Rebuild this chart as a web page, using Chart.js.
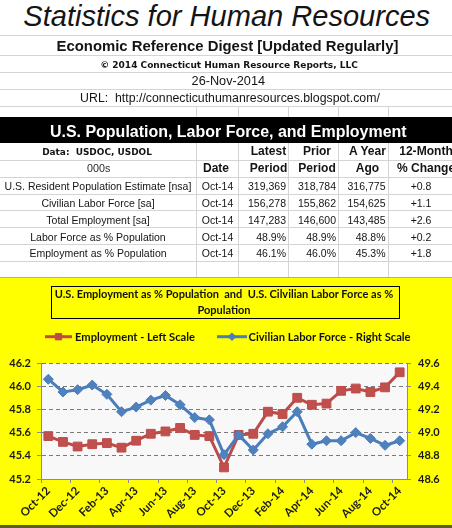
<!DOCTYPE html>
<html><head><meta charset="utf-8">
<script src="https://cdn.jsdelivr.net/npm/chart.js@4.4.1/dist/chart.umd.min.js"></script>
<style>
html,body{margin:0;padding:0;overflow:hidden;}
body{width:452px;height:528px;position:relative;background:#fff;}
.h{position:absolute;left:0;width:452px;height:1px;background:#d4d4d4;}
.v{position:absolute;width:1px;background:#d4d4d4;}
#chartBox{position:absolute;left:0;top:277px;width:452px;height:251px;background:#ffff00;}
#chartBox canvas{position:absolute;left:0;top:0;}
</style></head><body>
<div id="chartBox"><canvas id="c"></canvas></div>
<script>
// ---------- data ----------
const sheetTitle = "Statistics for Human Resources";
const sheetSubtitle = "Economic Reference Digest [Updated Regularly]";
const sheetCopyright = "\u00A9 2014 Connecticut Human Resource Reports, LLC";
const sheetDate = "26-Nov-2014";
const sheetUrl = "URL:  http://connecticuthumanresources.blogspot.com/";
const tableTitle = "U.S. Population, Labor Force, and Employment";
const headerRow1 = ["Data:  USDOC, USDOL", "", "Latest", "Prior", "A Year", "12-Month"];
const headerRow2 = ["000s", "Date", "Period", "Period", "Ago", "% Change"];
const rowLabels = ["U.S. Resident Population Estimate [nsa]", "Civilian Labor Force [sa]", "Total Employment [sa]", "Labor Force as % Population", "Employment as % Population"];
const rowDates = ["Oct-14", "Oct-14", "Oct-14", "Oct-14", "Oct-14"];
const latestPeriod = ["319,369", "156,278", "147,283", "48.9%", "46.1%"];
const priorPeriod = ["318,784", "155,862", "146,600", "48.9%", "46.0%"];
const yearAgo = ["316,775", "154,625", "143,485", "48.8%", "45.3%"];
const change12m = ["+0.8", "+1.1", "+2.6", "+0.2", "+1.8"];

const chartTitleLines = ["U.S. Employment as % Population  and  U.S. Cilvilian Labor Force as %", "Population"];
const months = ["Oct-12","Nov-12","Dec-12","Jan-13","Feb-13","Mar-13","Apr-13","May-13","Jun-13","Jul-13","Aug-13","Sep-13","Oct-13","Nov-13","Dec-13","Jan-14","Feb-14","Mar-14","Apr-14","May-14","Jun-14","Jul-14","Aug-14","Sep-14","Oct-14"];
const employmentPct = [45.57,45.52,45.48,45.50,45.51,45.47,45.53,45.59,45.61,45.64,45.58,45.57,45.30,45.58,45.59,45.78,45.76,45.90,45.84,45.85,45.96,45.98,45.95,45.99,46.12];
const laborForcePct = [49.46,49.35,49.37,49.41,49.33,49.18,49.22,49.28,49.32,49.24,49.13,49.11,48.81,48.98,48.85,48.99,49.05,49.18,48.90,48.93,48.93,49.00,48.95,48.89,48.93];
const leftAxisTicks = [45.2,45.4,45.6,45.8,46.0,46.2];
const rightAxisTicks = [48.6,48.8,49.0,49.2,49.4,49.6];
const seriesNames = ["Employment - Left Scale", "Civilian Labor Force - Right Scale"];

// ---------- helpers ----------
const mc = document.createElement('canvas').getContext('2d');
function fitSize(text, style, weight, family, width){
  mc.font = style + ' ' + weight + ' 100px ' + family;
  return 100 * width / mc.measureText(text).width;
}
function place(parent, text, o){
  const d = document.createElement('div');
  d.textContent = text;
  const size = o.size, fam = o.family || '"Liberation Sans", Arial, sans-serif';
  d.style.cssText = 'position:absolute;white-space:pre;font:' + (o.style||'normal') + ' ' + (o.weight||'normal') + ' ' + size + 'px ' + fam + ';line-height:' + size + 'px;color:' + (o.color||'#141414') + ';';
  d.style.top = (o.base - (o.bf||0.8465) * size) + 'px';
  if (o.align === 'center'){ d.style.left = (o.x - 400) + 'px'; d.style.width = '800px'; d.style.textAlign = 'center'; }
  else if (o.align === 'right'){ d.style.left = (o.x - 800) + 'px'; d.style.width = '800px'; d.style.textAlign = 'right'; }
  else { d.style.left = o.x + 'px'; }
  parent.appendChild(d);
  return d;
}
function box(cls, css){ const d = document.createElement('div'); d.className = cls; d.style.cssText += css; document.body.appendChild(d); return d; }

// ---------- spreadsheet part ----------
const LS = '"Liberation Sans", Arial, sans-serif';
const DJ = '"DejaVu Sans", Verdana, sans-serif';
[35,55,72,89,106,160,177,194,210,227,244,261].forEach(y => box('h', 'top:' + y + 'px;'));
const colX = [196,238,288,338,388];
colX.forEach(x => { box('v', 'left:' + x + 'px;top:106px;height:11px;'); box('v', 'left:' + x + 'px;top:143px;height:134px;'); });
const bar = box('', 'position:absolute;left:0;top:117px;width:452px;height:26px;background:#000;');

const B = document.body;
place(B, sheetTitle, {x:226.7, base:27, align:'center', style:'italic', size:fitSize(sheetTitle,'italic','normal',LS,407)});
place(B, sheetSubtitle, {x:227.5, base:51.5, align:'center', weight:'bold', size:fitSize(sheetSubtitle,'normal','bold',LS,342)});
place(B, sheetCopyright, {x:229, base:68.7, align:'center', weight:'bold', family:DJ, size:fitSize(sheetCopyright,'normal','bold',DJ,258)});
place(B, sheetDate, {x:228.3, base:86, align:'center', size:fitSize(sheetDate,'normal','normal',LS,73.5)});
place(B, sheetUrl, {x:230, base:102.3, align:'center', size:fitSize(sheetUrl,'normal','normal',LS,300)});
place(B, tableTitle, {x:228.3, base:137.7, align:'center', weight:'bold', color:'#fff', size:fitSize(tableTitle,'normal','bold',LS,357)});

const hdrSize = fitSize('Latest','normal','bold',LS,35.5);
const bodySize = fitSize(rowLabels[0],'normal','normal',LS,187);
const hdrCenters = [97, 216, 268.5, 317, 367.5, 426];
headerRow1.forEach((t,i) => { if (!t) return;
  if (i === 0) place(B, t, {x:97, base:155.3, align:'center', weight:'bold', family:DJ, size:fitSize(t,'normal','bold',DJ,110)});
  else place(B, t, {x:hdrCenters[i], base:155.3, align:'center', weight:'bold', size:hdrSize});
});
headerRow2.forEach((t,i) => {
  if (i === 0) place(B, t, {x:98.7, base:172.3, align:'center', size:bodySize*1.02, color:'#2a2a2a'});
  else place(B, t, {x:hdrCenters[i], base:172.3, align:'center', weight:'bold', size:hdrSize});
});
rowLabels.forEach((lab,r) => {
  const base = 190.3 + r * 16.75;
  place(B, lab, {x:98, base, align:'center', size:bodySize});
  place(B, rowDates[r], {x:217.5, base, align:'center', size:bodySize});
  place(B, latestPeriod[r], {x:286, base, align:'right', size:bodySize});
  place(B, priorPeriod[r], {x:336, base, align:'right', size:bodySize});
  place(B, yearAgo[r], {x:385.5, base, align:'right', size:bodySize});
  place(B, change12m[r], {x:421, base, align:'center', size:bodySize});
});

// ---------- chart part ----------
const CB = document.getElementById('chartBox');
const LATO = 'Lato, "Open Sans", sans-serif';
const tbox = document.createElement('div');
tbox.style.cssText = 'position:absolute;left:51px;top:9px;width:347px;height:31px;border:1.3px solid #000;';
CB.appendChild(tbox);
const ctSize = fitSize(chartTitleLines[0],'normal','bold',LATO,339);
place(CB, chartTitleLines[0], {x:224, base:20.8, align:'center', weight:'bold', family:LATO, bf:0.887, size:ctSize, color:'#111'});
place(CB, chartTitleLines[1], {x:224, base:36.3, align:'center', weight:'bold', family:LATO, bf:0.887, size:ctSize, color:'#111'});
const botLine = document.createElement('div');
botLine.style.cssText = 'position:absolute;left:0;top:248px;width:452px;height:3px;background:#5c5c2e;';
CB.appendChild(botLine);
const topLine = document.createElement('div');
topLine.style.cssText = 'position:absolute;left:0;top:0;width:452px;height:1px;background:#b8b84a;';
CB.appendChild(topLine);

const RED = '#BE4B48', BLUE = '#4A7EBB';
const plotBg = { id:'plotBg', beforeDraw(chart){ const a = chart.chartArea, c = chart.ctx; c.save(); c.fillStyle = '#f8f8f9'; c.fillRect(a.left, a.top, a.right - a.left, a.bottom - a.top); c.restore(); } };
const legendFont = fitSize(seriesNames[0],'normal','bold',LATO,120);
const legendPlugin = { id:'excelLegend', afterDraw(chart){
  const c = chart.ctx, y = 59.7;
  const lay = [{x0:45,x1:72,tx:75},{x0:217,x1:247,tx:248.5}];
  chart.data.datasets.forEach((ds,i) => {
    const L = lay[i];
    c.save();
    c.strokeStyle = ds.borderColor; c.fillStyle = ds.borderColor; c.lineWidth = 3;
    c.beginPath(); c.moveTo(L.x0, y); c.lineTo(L.x1, y); c.stroke();
    c.lineWidth = 1;
    Chart.helpers.drawPoint(c, {pointStyle: ds.pointStyle, radius: i === 0 ? 4.5 : 3.8, borderWidth: 1, rotation: 0}, (L.x0 + L.x1) / 2, y);
    c.fillStyle = '#111'; c.font = 'bold ' + legendFont + 'px ' + LATO; c.textBaseline = 'alphabetic'; c.textAlign = 'left';
    c.fillText(ds.label, L.tx, 64.3);
    c.restore();
  });
}};

const tickFont = {family:'Lato', weight:'bold', size:11};
new Chart(document.getElementById('c'), {
  type:'line',
  data:{ labels: months, datasets:[
    {label:seriesNames[0], data:employmentPct, yAxisID:'y', borderColor:RED, backgroundColor:RED, borderWidth:3,
     pointStyle:'rect', pointRadius:6.2, pointHoverRadius:6.2, pointBorderWidth:1, pointBackgroundColor:'#C0504D', pointBorderColor:RED, tension:0, order:1},
    {label:seriesNames[1], data:laborForcePct, yAxisID:'y1', borderColor:BLUE, backgroundColor:BLUE, borderWidth:3,
     pointStyle:'rectRot', pointRadius:5, pointHoverRadius:5, pointBorderWidth:1, pointBackgroundColor:'#4F81BD', pointBorderColor:BLUE, tension:0, order:0}
  ]},
  options:{
    responsive:true, maintainAspectRatio:false, animation:false, devicePixelRatio:1,
    layout:{padding:{top:86, left:0, right:0, bottom:0}},
    plugins:{legend:{display:false}, title:{display:false}, tooltip:{enabled:false}},
    scales:{
      x:{ offset:true,
          grid:{offset:true, drawOnChartArea:false, tickLength:4, color:(c) => (c.index % 2 === 0 ? '#8c8c8c' : 'rgba(0,0,0,0)')},
          border:{color:'#8c8c8c'},
          ticks:{autoSkip:false, maxRotation:45, minRotation:45, padding:1, color:'#1a1a1a', font:{family:'Lato', weight:'bold', size:11.5},
                 callback:(v,i) => (i % 2 === 0 ? months[i] : '')},
          afterFit:(s) => { s.height = 49; } },
      y:{ position:'left', min:leftAxisTicks[0], max:leftAxisTicks[leftAxisTicks.length-1],
          afterBuildTicks:(s) => { s.ticks = leftAxisTicks.map(v => ({value:v})); },
          ticks:{callback:(v) => v.toFixed(1), color:'#1a1a1a', font:tickFont, padding:6},
          grid:{color:'#7a7a7a', tickLength:4, tickColor:'#8c8c8c'},
          border:{color:'#8c8c8c', dash:[4,3]},
          afterFit:(s) => { s.width = 41; } },
      y1:{ position:'right', min:rightAxisTicks[0], max:rightAxisTicks[rightAxisTicks.length-1],
          afterBuildTicks:(s) => { s.ticks = rightAxisTicks.map(v => ({value:v})); },
          ticks:{callback:(v) => v.toFixed(1), color:'#1a1a1a', font:tickFont, padding:7},
          grid:{drawOnChartArea:false, tickLength:4, color:'#8c8c8c'},
          border:{color:'#8c8c8c'},
          afterFit:(s) => { s.width = 45; } }
    }
  },
  plugins:[plotBg, legendPlugin]
});
</script>
</body></html>
